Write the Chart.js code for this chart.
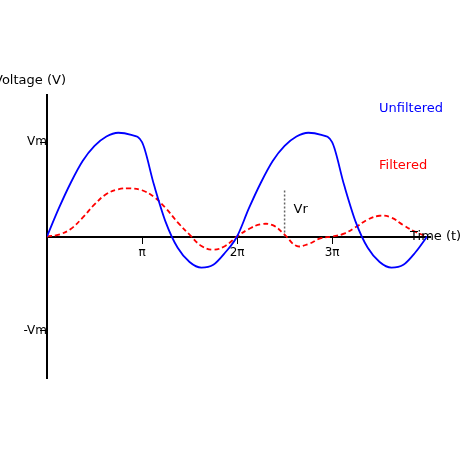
<!DOCTYPE html>
<html><head><meta charset="utf-8">
<script src="https://cdn.jsdelivr.net/npm/chart.js@4"></script>
<style>html,body{margin:0;background:#fff}#wrap{width:474px;height:474px}</style>
</head><body><div id="wrap"><canvas id="c"></canvas></div>
<script>
// x in units of pi
const xs = [0,0.125,0.25,0.375,0.5,0.625,0.75,0.875,1,1.125,1.25,1.375,1.5,1.625,1.75,1.875,2,
  2.125,2.25,2.375,2.5,2.625,2.75,2.875,3,3.125,3.25,3.375,3.5,3.625,3.75,3.875,4];
const unfiltered = [0,0.3,0.57,0.8,0.96,1.06,1.1,1.08,1.0,0.55,0.15,-0.12,-0.27,-0.33,-0.3,-0.17,0,
  0.3,0.57,0.8,0.96,1.06,1.1,1.08,1.0,0.55,0.15,-0.12,-0.27,-0.33,-0.3,-0.17,0];
const filtered = [0,0.02,0.08,0.2,0.34,0.45,0.5,0.51,0.49,0.42,0.3,0.15,0.02,-0.1,-0.14,-0.1,0,
  0.08,0.13,0.12,0.02,-0.1,-0.08,-0.02,0,0.03,0.1,0.18,0.22,0.2,0.12,0.05,0];
const ripple = [[2.5,0],[2.5,0.5]];
const xTicks = [1,2,3], xTickLabels = ['π','2π','3π'];
const yTicks = [-1,1], yTickLabels = ['-Vm','Vm'];

const pts = ys => xs.map((x,i)=>({x, y: ys[i]}));
const FONT = '"DejaVu Sans", sans-serif';

const textPlugin = {
  id:'texts',
  afterDraw(chart){
    const {ctx} = chart; const sx = chart.scales.x, sy = chart.scales.y;
    ctx.save(); ctx.font = '13px ' + FONT; ctx.textBaseline = 'middle';
    ctx.fillStyle = '#000'; ctx.textAlign = 'center';
    ctx.fillText('Voltage (V)', sx.left - 17, sy.top - 14);
    ctx.textAlign = 'left';
    ctx.fillText('Time (t)', sx.right - 20, sy.getPixelForValue(0));
    ctx.fillText('Vr', sx.getPixelForValue(2.5) + 9, sy.getPixelForValue(0.29));
    ctx.fillStyle = 'blue'; ctx.fillText('Unfiltered', 379, 109);
    ctx.fillStyle = 'red'; ctx.fillText('Filtered', 379, 166);
    ctx.restore();
  }
};

new Chart(document.getElementById('c'), {
  type:'line',
  data:{datasets:[
    {data:pts(unfiltered), borderColor:'blue', borderWidth:1.8, pointRadius:0, tension:0.35, cubicInterpolationMode:'monotone'},
    {data:pts(filtered), borderColor:'red', borderWidth:1.8, borderDash:[5,3], pointRadius:0, tension:0.4},
    {data:ripple.map(p=>({x:p[0],y:p[1]})), borderColor:'#666', borderWidth:1.5, borderDash:[2,2], pointRadius:0}
  ]},
  options:{
    responsive:true, maintainAspectRatio:false, animation:false,
    layout:{padding:{left:47,top:95,right:44,bottom:96}},
    plugins:{legend:{display:false}, tooltip:{enabled:false}},
    scales:{
      x:{type:'linear', min:0, max:4.03, position:{y:0},
        afterBuildTicks(s){ s.ticks = xTicks.map(v=>({value:v})); },
        ticks:{callback:(v)=>xTickLabels[xTicks.indexOf(v)], color:'#000', font:{family:FONT,size:12}, maxRotation:0, autoSkip:false},
        grid:{drawOnChartArea:false, tickLength:6, color:'#000'},
        border:{color:'#000', width:2}},
      y:{type:'linear', min:-1.5, max:1.5, position:{x:0},
        afterBuildTicks(s){ s.ticks = yTicks.map(v=>({value:v})); },
        ticks:{callback:(v)=>yTickLabels[yTicks.indexOf(v)], color:'#000', font:{family:FONT,size:12}, autoSkip:false},
        grid:{drawOnChartArea:false, tickLength:6, color:'#000'},
        border:{color:'#000', width:2}}
    }
  },
  plugins:[textPlugin]
});
</script></body></html>
